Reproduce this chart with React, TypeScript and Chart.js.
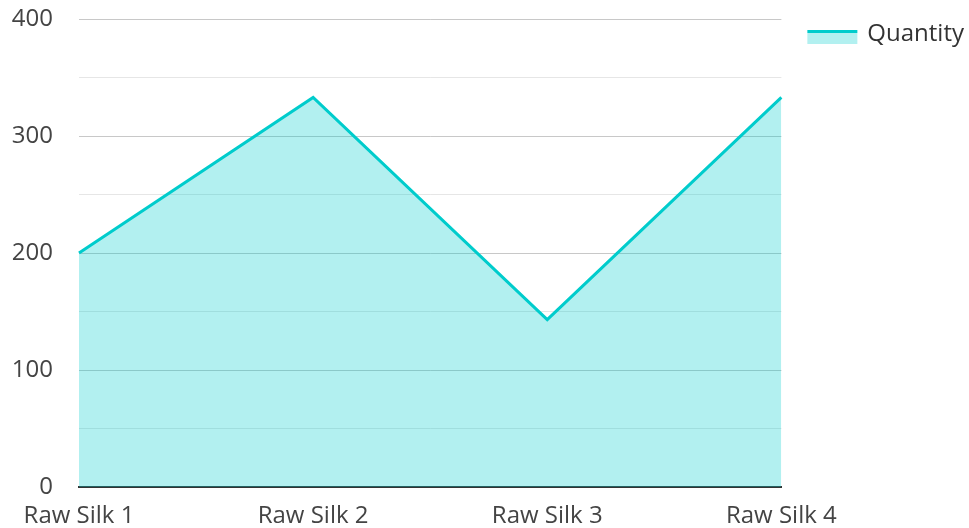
import React, { useEffect, useRef } from "react";
import { Chart, registerables } from "chart.js";

Chart.register(...registerables);

const categories = ["Raw Silk 1", "Raw Silk 2", "Raw Silk 3", "Raw Silk 4"];
const quantity = [200, 333, 143, 333];
const seriesName = "Quantity";
const yMin = 0;
const yMax = 400;
const yStep = 50;

const FONT = "'Open Sans', sans-serif";
const LINE = "rgb(0, 204, 204)";
const FILL = "rgba(0, 204, 204, 0.3)";

const legendLinePlugin = {
  id: "legendLine",
  beforeLayout(chart: any) {
    const lg = chart.legend;
    if (lg && !lg._patchedFit) {
      const orig = lg.fit.bind(lg);
      lg.fit = function () {
        orig();
        this.width = Math.max(0, this.width - 7);
      };
      lg._patchedFit = true;
    }
  },
  afterDraw(chart: any) {
    const legend = chart.legend;
    if (!legend || !legend.legendHitBoxes) return;
    const ctx = chart.ctx;
    legend.legendHitBoxes.forEach((box: any, i: number) => {
      const item = legend.legendItems[i];
      const boxTop = box.top + (box.height - 14) / 2 - 1;
      ctx.save();
      ctx.fillStyle = LINE;
      ctx.fillRect(box.left, boxTop, 50, 3);
      ctx.fillStyle = "#333";
      ctx.font = `24px ${FONT}`;
      ctx.textAlign = "left";
      ctx.textBaseline = "alphabetic";
      ctx.fillText(item.text, box.left + 60, boxTop + 11);
      ctx.restore();
    });
  },
};

export default function App() {
  const ref = useRef<HTMLCanvasElement>(null);
  useEffect(() => {
    document.body.style.margin = "0";
    const chart = new Chart(ref.current!, {
      type: "line",
      data: {
        labels: categories,
        datasets: [
          {
            label: seriesName,
            data: quantity,
            borderColor: LINE,
            backgroundColor: FILL,
            borderWidth: 3,
            fill: "origin",
            pointRadius: 0,
            tension: 0,
          },
        ],
      },
      options: {
        animation: false,
        responsive: false,
        maintainAspectRatio: false,
        layout: { padding: 0 },
        plugins: {
          tooltip: { enabled: false },
          legend: {
            position: "right",
            align: "start",
            labels: {
              boxWidth: 50,
              boxHeight: 14,
              color: "rgba(0,0,0,0)",
              font: { family: FONT, size: 24 },
              padding: 26,
              generateLabels: (chart: any) =>
                chart.data.datasets.map((ds: any, i: number) => ({
                  text: ds.label,
                  fillStyle: "rgba(0,0,0,0)",
                  strokeStyle: "rgba(0,0,0,0)",
                  lineWidth: 0,
                  datasetIndex: i,
                  fontColor: "rgba(0,0,0,0)",
                })),
            },
          },
        },
        scales: {
          x: {
            grid: { display: false, drawTicks: false },
            border: { display: true, color: "#333", width: 2 },
            ticks: {
              color: "#444",
              font: { family: FONT, size: 24 },
              padding: 15,
              maxRotation: 0,
              autoSkip: false,
            },
            afterFit: (s: any) => {
              s.height = 41;
            },
          },
          y: {
            min: yMin,
            max: yMax,
            grid: {
              drawTicks: false,
              color: (c: any) =>
                c.tick && c.tick.value % 100 === 0 ? "#c8c8c8" : "#e6e6e6",
              lineWidth: 1,
            },
            border: { display: false },
            ticks: {
              stepSize: yStep,
              color: "#444",
              font: { family: FONT, size: 24 },
              padding: 26,
              callback: (v: any) => (Number(v) % 100 === 0 ? String(v) : ""),
            },
            afterFit: (s: any) => {
              s.width = 79;
              s.paddingTop = 19;
              s.paddingBottom = 0;
            },
          },
        },
      },
      plugins: [
        legendLinePlugin,
        {
          id: "legendBoxFill",
          afterDraw(chart: any) {
            const legend = chart.legend;
            if (!legend || !legend.legendHitBoxes) return;
            const ctx = chart.ctx;
            legend.legendHitBoxes.forEach((box: any) => {
              const boxTop = box.top + (box.height - 14) / 2 - 1;
              ctx.save();
              ctx.fillStyle = FILL;
              ctx.fillRect(box.left, boxTop + 3, 50, 11);
              ctx.restore();
            });
          },
        },
      ],
    });
    return () => chart.destroy();
  }, []);
  return (
    <div style={{ width: 969, height: 528 }}>
      <canvas ref={ref} width={969} height={528} style={{ display: "block" }} />
    </div>
  );
}
